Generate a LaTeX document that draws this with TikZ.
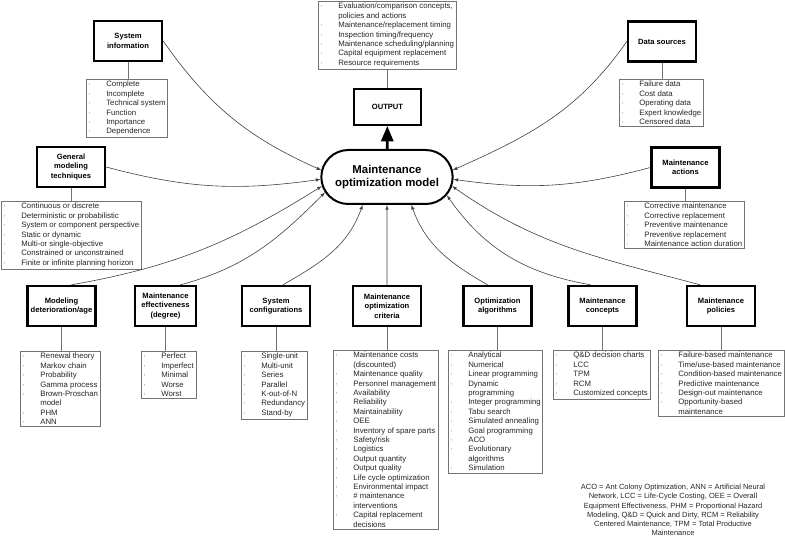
\documentclass[tikz,border=0pt]{standalone}
\usepackage{fontspec}
\setmainfont{Liberation Sans}
\usepackage{tikz}
\usetikzlibrary{arrows,shapes.misc}

\newcommand{\itm}{\makebox[18pt][l]{\textcolor{black!60}{·}}}
\newcommand{\cnt}{\hspace*{18pt}}

\tikzset{
  hd/.style={draw, line width=2.4pt, minimum width=68pt, minimum height=40pt,
    inner sep=1pt, align=center, font=\bfseries\fontsize{7.6}{9.3}\selectfont},
  lst/.style={draw=black!55, line width=0.6pt, anchor=north west, align=left,
    inner xsep=2pt, inner ysep=2pt, text=black!85, font=\fontsize{7.8}{9.4}\selectfont},
  mom/.style={rounded rectangle, draw, line width=2pt, minimum width=138pt,
    minimum height=54pt, align=center, font=\bfseries\fontsize{11.4}{12.5}\selectfont},
  lnk/.style={draw=black!55, line width=0.6pt},
  cnx/.style={draw=black!75, line width=0.6pt, -latex},
}

\begin{document}
\begin{tikzpicture}[x=1pt,y=1pt]

  \useasboundingbox (0,0) rectangle (785,-540);

  \node[mom] (model) at (387,-177) {Maintenance\\optimization model};

  % output
  \node[hd, minimum width=67pt, minimum height=36pt] (outH) at (387.5,-107) {OUTPUT};
  \node[lst] (outL) at (318,-1) {\itm Evaluation/comparison concepts,\\ \cnt policies and actions\\
    \itm Maintenance/replacement timing\\ \itm Inspection timing/frequency\\
    \itm Maintenance scheduling/planning\\ \itm Capital equipment replacement\\
    \itm Resource requirements};
  \draw[lnk] (outH) -- (outH |- outL.south);
  \draw[line width=2.6pt,-triangle 45] (model) -- (outH);

  % left and right inputs
  \node[hd] (sysH) at (128,-41) {System\\information};
  \node[lst] (sysL) at (86,-79) {\itm Complete\\ \itm Incomplete\\ \itm Technical system\\
    \itm Function\\ \itm Importance\\ \itm Dependence};
  \draw[lnk] (sysH) -- (sysH |- sysL.north);

  \node[hd] (genH) at (71,-167) {General\\modeling\\techniques};
  \node[lst] (genL) at (1,-201) {\itm Continuous or discrete\\ \itm Deterministic or probabilistic\\
    \itm System or component perspective\\ \itm Static or dynamic\\
    \itm Multi-or single-objective\\ \itm Constrained or unconstrained\\
    \itm Finite or infinite planning horizon};
  \draw[lnk] (genH) -- (genH |- genL.north);

  \node[hd] (dataH) at (662,-41.5) {Data sources};
  \node[lst] (dataL) at (619,-79) {\itm Failure data\\ \itm Cost data\\ \itm Operating data\\
    \itm Expert knowledge\\ \itm Censored data};
  \draw[lnk] (dataH) -- (dataH |- dataL.north);

  \node[hd] (actH) at (685.5,-167.5) {Maintenance\\actions};
  \node[lst] (actL) at (624,-201) {\itm Corrective maintenance\\ \itm Corrective replacement\\
    \itm Preventive maintenance\\ \itm Preventive replacement\\
    \itm Maintenance action duration};
  \draw[lnk] (actH) -- (actH |- actL.north);

  % bottom row
  \node[hd] (detH) at (61.5,-306) {Modeling\\deterioration/age};
  \node[lst] (detL) at (20,-351) {\itm Renewal theory\\ \itm Markov chain\\ \itm Probability\\
    \itm Gamma process\\ \itm Brown-Proschan\\ \cnt model\\ \itm PHM\\ \itm ANN};
  \draw[lnk] (detH) -- (detH |- detL.north);

  \node[hd, minimum width=61pt] (effH) at (165.5,-306) {Maintenance\\effectiveness\\(degree)};
  \node[lst] (effL) at (141,-351) {\itm Perfect\\ \itm Imperfect\\ \itm Minimal\\
    \itm Worse\\ \itm Worst};
  \draw[lnk] (effH) -- (effH |- effL.north);

  \node[hd] (cfgH) at (276,-306) {System\\configurations};
  \node[lst] (cfgL) at (241,-351) {\itm Single-unit\\ \itm Multi-unit\\ \itm Series\\
    \itm Parallel\\ \itm K-out-of-N\\ \itm Redundancy\\ \itm Stand-by};
  \draw[lnk] (cfgH) -- (cfgH |- cfgL.north);

  \node[hd] (critH) at (387,-306) {Maintenance\\optimization\\criteria};
  \node[lst] (critL) at (333,-350) {\itm Maintenance costs\\ \cnt (discounted)\\
    \itm Maintenance quality\\ \itm Personnel management\\ \itm Availability\\
    \itm Reliability\\ \itm Maintainability\\ \itm OEE\\ \itm Inventory of spare parts\\
    \itm Safety/risk\\ \itm Logistics\\ \itm Output quantity\\ \itm Output quality\\
    \itm Life cycle optimization\\ \itm Environmental impact\\ \itm \# maintenance\\
    \cnt interventions\\ \itm Capital replacement\\ \cnt decisions};
  \draw[lnk] (critH) -- (critH |- critL.north);

  \node[hd] (algH) at (497.5,-306) {Optimization\\algorithms};
  \node[lst] (algL) at (448,-350) {\itm Analytical\\ \itm Numerical\\ \itm Linear programming\\
    \itm Dynamic\\ \cnt programming\\ \itm Integer programming\\ \itm Tabu search\\
    \itm Simulated annealing\\ \itm Goal programming\\ \itm ACO\\ \itm Evolutionary\\
    \cnt algorithms\\ \itm Simulation};
  \draw[lnk] (algH) -- (algH |- algL.north);

  \node[hd] (cncH) at (602.5,-306) {Maintenance\\concepts};
  \node[lst] (cncL) at (553,-350) {\itm Q\&D decision charts\\ \itm LCC\\ \itm TPM\\
    \itm RCM\\ \itm Customized concepts};
  \draw[lnk] (cncH) -- (cncH |- cncL.north);

  \node[hd] (polH) at (721,-306) {Maintenance\\policies};
  \node[lst] (polL) at (658,-350) {\itm Failure-based maintenance\\
    \itm Time/use-based maintenance\\ \itm Condition-based maintenance\\
    \itm Predictive maintenance\\ \itm Design-out maintenance\\
    \itm Opportunity-based\\ \cnt maintenance};
  \draw[lnk] (polH) -- (polH |- polL.north);

  % inputs to the model
  \draw[cnx] (sysH.east) to[out=-55,in=156] (model.174);
  \draw[cnx] (genH.east) to[out=-15,in=188] (model.182);
  \draw[cnx] (dataH.west) to[out=-125,in=24] (model.6);
  \draw[cnx] (actH.west) to[out=195,in=-8] (model.358);
  \draw[cnx] ([xshift=10pt]detH.north) to[out=10,in=212] (model.188);
  \draw[cnx] ([xshift=15pt]effH.north) to[out=15,in=225] (model.194);
  \draw[cnx] ([xshift=7pt]cfgH.north) to[out=30,in=250] (model.229);
  \draw[cnx] (critH) -- (model);
  \draw[cnx] ([xshift=-10pt]algH.north) to[out=150,in=290] (model.311);
  \draw[cnx] ([xshift=-12pt]cncH.north) to[out=170,in=-55] (model.343);
  \draw[cnx] ([xshift=-21pt]polH.north) to[out=165,in=-35] (model.352);

  \node[align=center, text=black!85, font=\fontsize{7.5}{9.2}\selectfont] (abbr) at (673,-510)
    {ACO = Ant Colony Optimization, ANN = Artificial Neural\\
     Network, LCC = Life-Cycle Costing, OEE = Overall\\
     Equipment Effectiveness, PHM = Proportional Hazard\\
     Modeling, Q\&D = Quick and Dirty, RCM = Reliability\\
     Centered Maintenance, TPM = Total Productive\\
     Maintenance};

\end{tikzpicture}
\end{document}
